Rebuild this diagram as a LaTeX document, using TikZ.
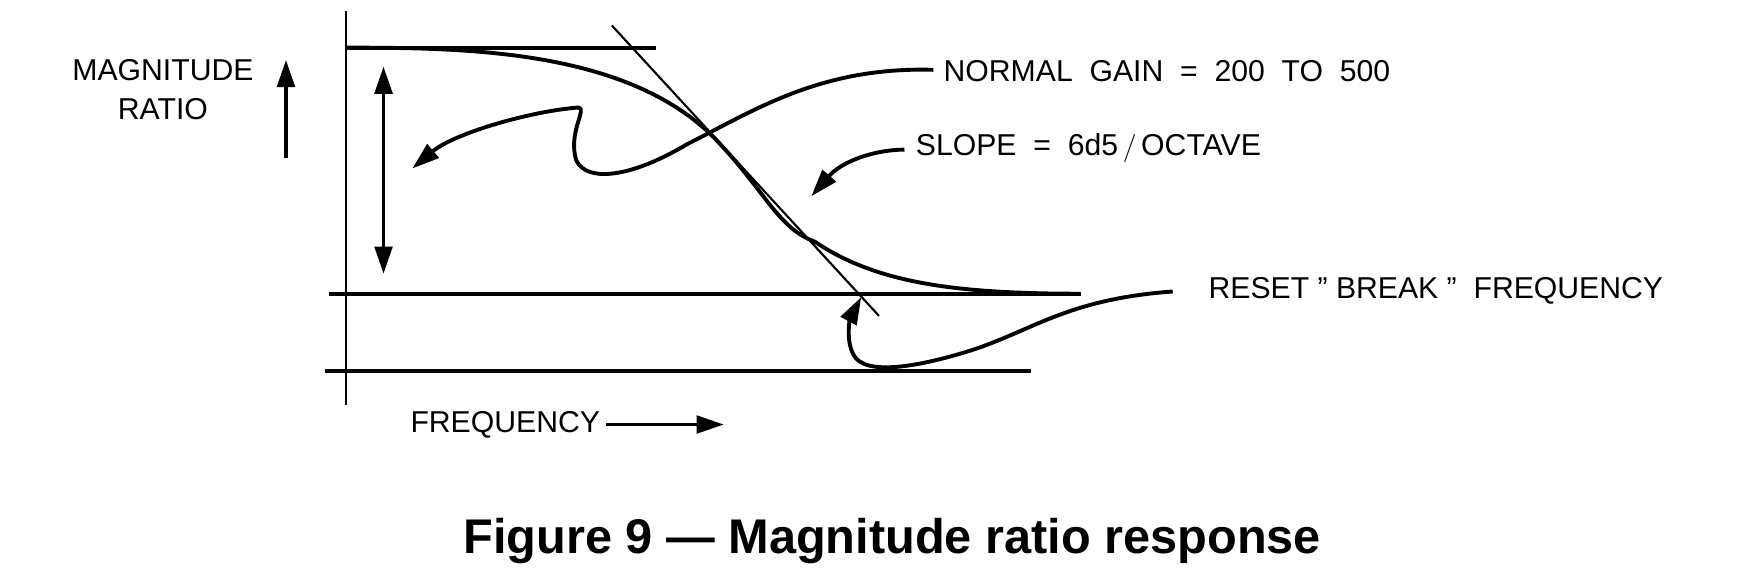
\documentclass[tikz,border=0pt]{standalone}
\usepackage{fontspec}
\setmainfont{Liberation Sans}
\usetikzlibrary{arrows.meta}
\begin{document}
\begin{tikzpicture}[x=0.02cm,y=-0.02cm,
  thick line/.style={line width=2.2pt},
  thin line/.style={line width=1.1pt},
  lead/.style={line width=2pt,-{Triangle[length=14pt,width=9pt]}},
  lbl/.style={font=\fontsize{15.5}{18}\selectfont,inner sep=0pt,anchor=west},
  every node/.style={inner sep=0pt}]
\useasboundingbox (0,0) rectangle (1568,519);
% axes and levels
\draw[thin line] (312,10) -- (312,365);
\draw[thick line] (313,43) -- (592,43);
\draw[thick line] (297,265) -- (975,265);
\draw[thick line] (293,335) -- (930,335);
\draw[thin line] (552,23) -- (793,285);
% response curve
\draw[line width=2pt] (313,43) .. controls (420,43) and (560,45) .. (640,120)
  .. controls (690,170) and (700,205) .. (735,218)
  .. controls (790,255) and (860,265) .. (975,265);
% double arrow
\draw[line width=2pt,{Triangle[length=14pt,width=9pt]}-{Triangle[length=14pt,width=9pt]}] (346,60) -- (346,247);
% magnitude ratio label
\node[font=\fontsize{15.5}{18}\selectfont,align=center] (mr) at (147,81) {MAGNITUDE\\[2pt]RATIO};
\draw[lead] (258,143) -- (258,54);
% frequency
\node[lbl] (fr) at (370,383) {FREQUENCY};
\draw[lead] (fr.east) ++(5,0) coordinate (fs) -- (653,383);
% labels
\node[lbl] (ng) at (851,64) {NORMAL\ \ GAIN\ \ =\ \ 200\ \ TO\ \ 500};
\node[lbl] (sl) at (826,134) {SLOPE\ \ =\ \ 6d5$\,\big/\,$OCTAVE};
\node[lbl] (rb) at (1090,262) {RESET\ "\ BREAK\ "\ \ FREQUENCY};
% leaders
\draw[lead] (842,63) .. controls (740,60) and (680,100) .. (620,130)
  .. controls (570,160) and (530,165) .. (520,145)
  .. controls (512,120) and (530,98) .. (522,97)
  .. controls (480,100) and (410,120) .. (372,152);
\draw[lead] (816,135) .. controls (790,135) and (760,145) .. (732,177);
\draw[lead] (1058,263) .. controls (960,270) and (930,300) .. (870,318)
  .. controls (830,330) and (780,340) .. (770,320)
  .. controls (762,305) and (768,285) .. (777,268);
% caption
\node[font=\fontsize{25}{30}\selectfont\bfseries] (cap) at (805,488) {Figure 9 — Magnitude ratio response};
\end{tikzpicture}
\end{document}
